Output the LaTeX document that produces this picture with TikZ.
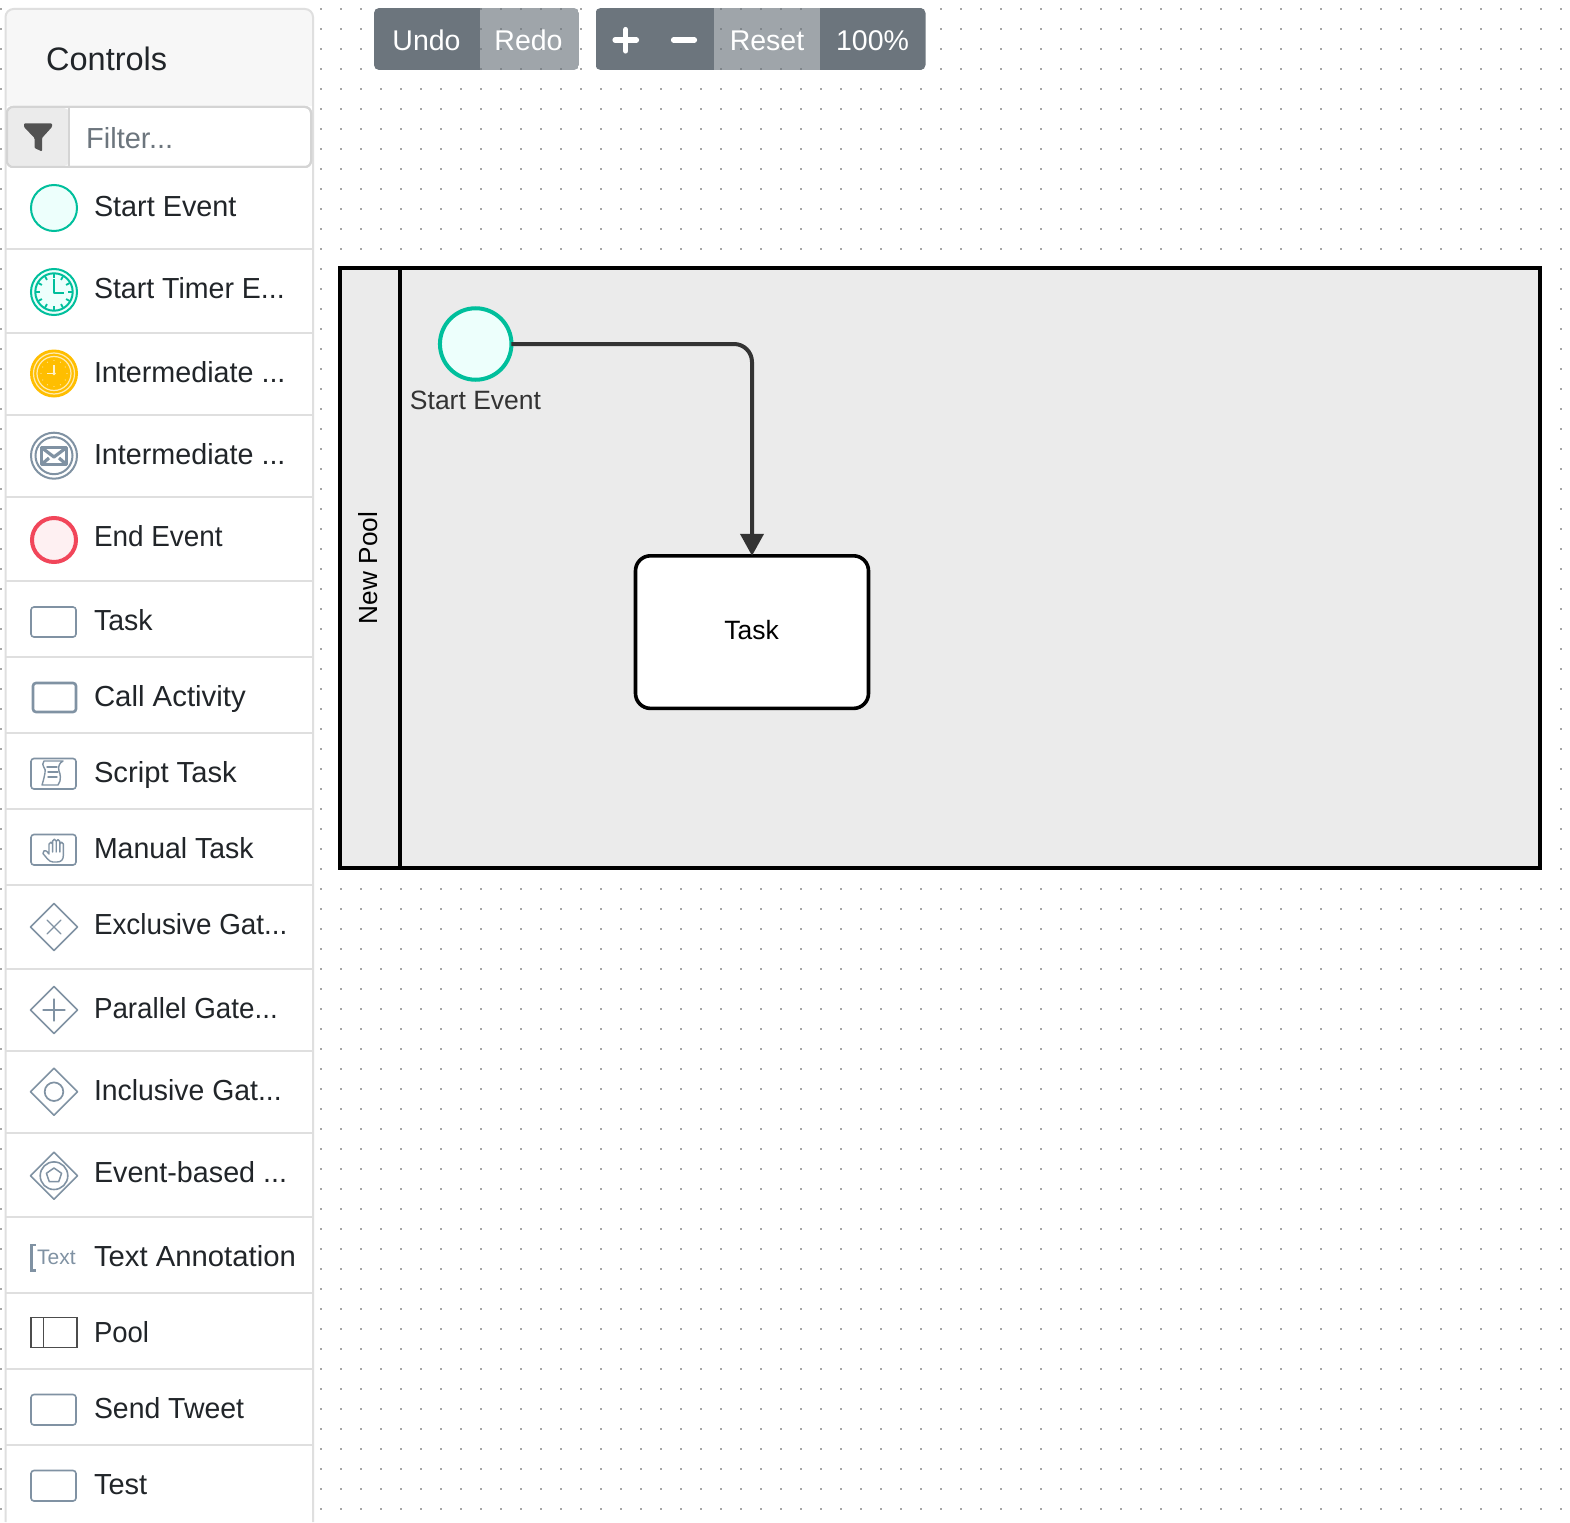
\documentclass[tikz,border=0pt]{standalone}
\usepackage{fontspec}
\setmainfont{Liberation Sans}
\usetikzlibrary{arrows.meta,shapes.geometric,calc}
\definecolor{teal}{HTML}{00BF9C}
\definecolor{tealfill}{HTML}{EDFFFC}
\definecolor{iconc}{HTML}{8092A3}
\definecolor{ink}{HTML}{212529}
\definecolor{sep}{HTML}{DFDFDF}
\definecolor{btn}{HTML}{6C757D}
\definecolor{orangec}{HTML}{FFBE00}
\definecolor{redc}{HTML}{F1465A}
\newcommand{\fpx}[1]{\fontsize{#1pt}{#1pt}\selectfont}
\newcommand{\xs}[2]{\scalebox{#1}[1]{#2}}
\tikzset{
  rowlabel/.style={anchor=base west,inner sep=0pt,outer sep=0pt,text=ink,font=\fpx{29}},
  btnlabel/.style={anchor=base,inner sep=0pt,text=white,font=\fpx{28.5}},
  icontask/.style={draw=iconc,line width=1.6pt,rounded corners=3pt,fill=white},
  icongate/.style={draw=iconc,line width=1.7pt,line join=round,fill=white},
  iconline/.style={draw=iconc,line width=1.4pt,line cap=round,line join=round},
  seprule/.style={draw=sep,line width=2pt},
}
\begin{document}
\begin{tikzpicture}[x=1pt,y=-1pt]
\useasboundingbox (0,0) rectangle (1570,1522);
\fill[white] (0,0) rectangle (1570,1522);
% grid dots
\foreach \i in {0,...,78}{
  \pgfmathsetmacro{\xx}{1+20*\i}
  \foreach \j in {0,...,75}{
    \pgfmathsetmacro{\yy}{9+20*\j}
    \fill[black!35] (\xx-1,\yy-1) rectangle ++(2,2);
  }
}
% side panel
\path[fill=white] (5.5,1522) -- (5.5,17) arc[start angle=180,end angle=270,radius=8] -- (305,9) arc[start angle=270,end angle=360,radius=8] -- (313,1522) -- cycle;
\path[fill=black!3] (5.5,106) -- (5.5,17) arc[start angle=180,end angle=270,radius=8] -- (305,9) arc[start angle=270,end angle=360,radius=8] -- (313,106) -- cycle;
\draw[seprule] (5.5,1522) -- (5.5,17) arc[start angle=180,end angle=270,radius=8] -- (305,9) arc[start angle=270,end angle=360,radius=8] -- (313,1522);
\foreach \s in {249,333,415,497,581,657,733,809,885,969,1051,1133,1217,1293,1369,1445}{
  \draw[seprule] (5.5,\s) -- (313,\s);
}
\node[anchor=base west,inner sep=0pt,text=ink,font=\fpx{32.5}] (controls) at (46,71) {Controls};
% filter
\draw[draw=black!17,line width=2pt,fill=white,rounded corners=6pt] (7,107) rectangle (311,167);
\fill[fill=black!8,rounded corners=5pt] (8,108) -- (69,108) -- (69,166) -- (8,166) -- cycle;
\draw[draw=black!17,line width=2pt] (69,107) -- (69,167);
\draw[draw=black!17,line width=2pt,rounded corners=6pt] (7,107) rectangle (311,167);
\fill[fill=black!68,rounded corners=1pt] (24,123.5) -- (52,123.5) -- (52,127) -- (42,138) -- (42,151.5) -- (34.5,148) -- (34.5,138) -- (24,127) -- cycle;
\node[anchor=base west,inner sep=0pt,text=btn,font=\fpx{29}] (filter) at (86,149) {Filter...};
% start event icon
\draw[draw=teal,line width=2pt,fill=tealfill] (54,208) circle (23);
\node[rowlabel] (l1) at (94,217) {\xs{.993}{Start Event}};
% start timer icon
\draw[draw=teal,line width=2pt,fill=tealfill] (54,292) circle (23);
\draw[draw=teal,line width=2pt] (54,292) circle (18.7);
\foreach \a in {0,30,...,330}{
  \draw[draw=teal,line width=1.8pt] ($(54,292)+(\a:14)$) -- ($(54,292)+(\a:18)$);
}
\draw[draw=teal,line width=2pt,line join=round] (54,279) -- (54,293) -- (64,293);
\node[rowlabel] (l2) at (94,298) {\xs{.984}{Start Timer E...}};
% intermediate timer icon
\fill[orangec] (54,373.5) circle (24);
\draw[draw=white!70!orangec,line width=1.2pt] (54,373.5) circle (20.5);
\draw[draw=white!70!orangec,line width=1.2pt] (54,373.5) circle (17);
\foreach \a in {0,30,...,330}{
  \fill[white!60!orangec] ($(54,373.5)+(\a:13)$) circle (0.6);
}
\draw[draw=white!80!orangec,line width=1.3pt] (54,365) -- (54,373.5) -- (47,373.5);
\fill[white!80!orangec] (54,373.5) circle (1.8);
\node[rowlabel] (l3) at (94,382) {\xs{.99}{Intermediate ...}};
% intermediate message icon
\draw[draw=iconc,line width=2pt,fill=white] (54,455.7) circle (23);
\draw[draw=iconc,line width=2pt] (54,455.7) circle (18.5);
\draw[draw=iconc,line width=3.2pt,line join=round] (41.5,447.5) rectangle (66.5,464.5);
\draw[draw=iconc,line width=3.2pt,line join=round] (41.5,447.5) -- (54,457) -- (66.5,447.5);
\draw[draw=iconc,line width=3.2pt] (41.5,464.5) -- (49,458);
\draw[draw=iconc,line width=3.2pt] (66.5,464.5) -- (59,458);
\node[rowlabel] (l4) at (94,464) {\xs{.99}{Intermediate ...}};
% end event icon
\draw[draw=redc,line width=4pt,fill=redc!8] (54,540) circle (22);
\node[rowlabel] (l5) at (94,546) {\xs{.962}{End Event}};
% task icon
\draw[icontask] (31,607) rectangle (76,637);
\node[rowlabel] (l6) at (94,630) {\xs{.983}{Task}};
% call activity icon
\draw[icontask,line width=2.6pt] (33,683) rectangle (76,712);
\node[rowlabel] (l7) at (94,706) {\xs{1.013}{Call Activity}};
% script task icon
\draw[icontask] (31,758.5) rectangle (76,789);
\draw[iconline] (44,761) .. controls (40,766) and (47,768) .. (45,773) .. controls (44,778) and (43,782) .. (42,785) -- (58,785) .. controls (62,780) and (60,773) .. (59,771) .. controls (58,767) and (59,763) .. (63,761) -- cycle;
\draw[iconline] (47,767) -- (57,767) (48,772) -- (58,772) (48,777) -- (57,777);
\node[rowlabel] (l8) at (94,782) {\xs{1.007}{Script Task}};
% manual task icon
\draw[icontask] (31,834.5) rectangle (76,865);
\draw[iconline] (46.5,851) -- (49,854) -- (49,844) arc[start angle=180,end angle=360,radius=1.8] -- (52.6,852) -- (52.6,841) arc[start angle=180,end angle=360,radius=1.8] -- (56.2,852) -- (56.2,841.5) arc[start angle=180,end angle=360,radius=1.8] -- (59.8,852) -- (59.8,844) arc[start angle=180,end angle=360,radius=1.8] -- (63.4,855) .. controls (63.4,860) and (61,862) .. (57,862) -- (53,862) .. controls (49,862) and (46,857) .. (43,853.5) .. controls (42.5,851) and (45,849.5) .. (46.5,851) -- cycle;
\node[rowlabel] (l9) at (94,858) {\xs{.981}{Manual Task}};
% exclusive gateway icon
\draw[icongate] (54,903.5) -- (77.5,927) -- (54,950.5) -- (30.5,927) -- cycle;
\draw[iconline,line width=1.1pt] (47,920) -- (61,934) (47,934) -- (61,920);
\node[rowlabel] (l10) at (94,934) {\xs{.96}{Exclusive Gat...}};
% parallel gateway icon
\draw[icongate] (54,986.5) -- (77.5,1010) -- (54,1033.5) -- (30.5,1010) -- cycle;
\draw[iconline,line width=1.1pt] (43,1010) -- (65,1010) (54,999) -- (54,1021);
\node[rowlabel] (l11) at (94,1018) {\xs{.958}{Parallel Gate...}};
% inclusive gateway icon
\draw[icongate] (54,1068.2) -- (77.5,1091.7) -- (54,1115.2) -- (30.5,1091.7) -- cycle;
\draw[draw=iconc,line width=1.7pt] (54,1091.7) circle (9.3);
\node[rowlabel] (l12) at (94,1100) {\xs{.979}{Inclusive Gat...}};
% event-based gateway icon
\draw[icongate] (54,1152.2) -- (77.5,1175.7) -- (54,1199.2) -- (30.5,1175.7) -- cycle;
\draw[draw=iconc,line width=1.6pt] (54,1175.7) circle (13.8);
\draw[draw=iconc,line width=1.5pt,line join=round] (54,1168) -- (61.6,1173.3) -- (58.7,1181.7) -- (49.3,1181.7) -- (46.4,1173.3) -- cycle;
\node[rowlabel] (l13) at (94,1182) {\xs{.99}{Event-based ...}};
% text annotation icon
\draw[draw=iconc,line width=2.4pt] (35.5,1245) -- (31.5,1245) -- (31.5,1270.5) -- (35.5,1270.5);
\node[anchor=base west,inner sep=0pt,text=iconc,font=\fpx{21}] (texticon) at (37,1264.5) {Text};
\node[rowlabel] (l14) at (94,1266) {\xs{1.01}{Text Annotation}};
% pool icon
\draw[draw=black!70,line width=1.6pt] (31,1317.5) rectangle (77,1347.5);
\draw[draw=black!70,line width=1.6pt] (43.5,1317.5) -- (43.5,1347.5);
\node[rowlabel] (l15) at (94,1342) {\xs{.948}{Pool}};
% send tweet icon
\draw[icontask] (31,1394.5) rectangle (76,1425);
\node[rowlabel] (l16) at (94,1418) {\xs{.98}{Send Tweet}};
% test icon
\draw[icontask] (31,1470.5) rectangle (76,1501);
\node[rowlabel] (l17) at (94,1494) {Test};
% toolbar
\begin{scope}
\path[clip,rounded corners=5pt] (374,8) rectangle (579,70);
\fill[btn] (374,8) rectangle (480,70);
\fill[btn,opacity=.65] (480,8) rectangle (579,70);
\end{scope}
\begin{scope}
\path[clip,rounded corners=5pt] (595.5,8) rectangle (925.5,70);
\fill[btn] (595.5,8) rectangle (713.5,70);
\fill[btn,opacity=.65] (713.5,8) rectangle (819.5,70);
\fill[btn] (819.5,8) rectangle (925.5,70);
\end{scope}
\node[btnlabel] (undo) at (426.5,50.5) {Undo};
\node[btnlabel] (redo) at (528.5,50.5) {Redo};
\node[btnlabel] (reset) at (767,50.5) {Reset};
\node[btnlabel] (zoomv) at (872.5,50.5) {100\%};
\draw[white,line width=5.2pt,line cap=round] (615,40) -- (636.5,40) (625.7,29.5) -- (625.7,51);
\draw[white,line width=5.2pt,line cap=round] (673.5,40) -- (694.5,40);
% pool
\draw[black,line width=4pt,fill=black!8] (340,268) rectangle (1539.5,867.5);
\draw[black,line width=4pt] (400,268) -- (400,867.5);
\node[rotate=90,inner sep=0pt,text=black,font=\fpx{26.2}] (poolname) at (368,568) {New Pool};
% flow nodes
\node[circle,draw=teal,line width=4pt,fill=tealfill,minimum size=71.5pt,inner sep=0pt,outer sep=0pt] (start) at (475.7,344) {};
\node[anchor=base,inner sep=0pt,text=black!80,font=\fpx{26.5}] (startlabel) at (475.5,409.5) {Start Event};
\node[draw=black,line width=3.6pt,fill=white,rounded corners=15pt,minimum width=233pt,minimum height=152.6pt,inner sep=0pt,outer sep=0pt] (task) at (752,632.1) {};
\node[anchor=base,inner sep=0pt,text=black,font=\fpx{26.5}] (tasklabel) at (751.7,639) {Task};
\draw[draw=black!80,line width=4pt,rounded corners=18pt,-{Triangle[length=22pt,width=23pt]}] (start.east) -| (task.north);
\end{tikzpicture}
\end{document}
